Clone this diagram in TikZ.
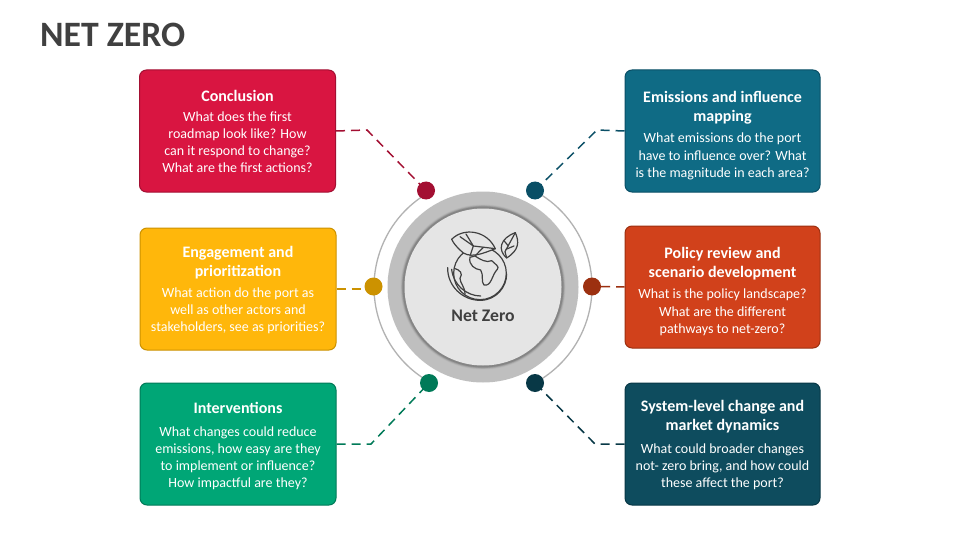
\documentclass[tikz,border=0pt]{standalone}
\usepackage{fontspec}
\setmainfont{Carlito}
\definecolor{cRed}{HTML}{D91541}\definecolor{cRedD}{HTML}{A30F32}
\definecolor{cBlue}{HTML}{0F6B85}\definecolor{cBlueD}{HTML}{0A4F66}
\definecolor{cYel}{HTML}{FFB70B}\definecolor{cYelD}{HTML}{CC9200}
\definecolor{cOra}{HTML}{D1411B}\definecolor{cOraD}{HTML}{9C3010}
\definecolor{cGrn}{HTML}{00A676}\definecolor{cGrnD}{HTML}{007A58}
\definecolor{cNav}{HTML}{0E4C5E}\definecolor{cNavD}{HTML}{083846}
\definecolor{cInk}{HTML}{404040}
\tikzset{
 x=1pt,y=-1pt,
 card/.style={draw=#1,line width=1pt,rounded corners=7pt,minimum width=196pt,minimum height=122pt,inner sep=0pt},
 cardtext/.style={inner sep=0pt,text=white,align=center,font=\fontsize{14}{17.2}\selectfont},
 dot/.style={circle,fill=#1,draw=none,minimum size=18pt,inner sep=0pt},
 link/.style={draw=#1,line width=1.5pt,dash pattern=on 9pt off 6pt},
 icon/.style={draw=cInk,line width=1.2pt,line cap=round,line join=round,fill=none},
}
\newcommand{\tline}[1]{{\fontsize{16}{19}\selectfont\bfseries #1}}
\begin{document}
\begin{tikzpicture}
\useasboundingbox (0,0) rectangle (960,540);
\fill[white] (0,0) rectangle (960,540);
\node[anchor=west,text=cInk,inner sep=0pt,font=\fontsize{35.7}{38}\selectfont\bfseries] (title) at (40,35) {NET ZERO};

% ring
\draw[black!30,line width=1.3pt] ([shift={(121:109pt)}]483,287) arc[start angle=121,end angle=239,radius=109pt];
\draw[black!30,line width=1.3pt] ([shift={(61:109pt)}]483,287) arc[start angle=61,end angle=-61,radius=109pt];

% hub
\fill[black!25] (483,287) circle[radius=95.5];
\foreach \r/\g in {82.5/28,81.8/33,81.1/40,80.4/48}{\fill[black!\g] (483,287) circle[radius=\r];}
\node[circle,fill=black!10,minimum size=157pt,inner sep=0pt] (hub) at (483,287) {};
\node[text=cInk,font=\fontsize{17.7}{20}\selectfont\bfseries,inner sep=0pt] (hublabel) at (483,316) {Net Zero};

% globe icon (zoomed coordinates of the crop)
\begin{scope}[shift={(360,170)},x=.3333pt,y=-.3333pt]
 \draw[icon] (360,310) circle[radius=79];
 \draw[icon] (263,293) .. controls (262,350) and (310,392) .. (362,391) .. controls (410,390) and (440,350) .. (440,312);
 \draw[icon] (275,298) .. controls (280,345) and (320,378) .. (362,378);
 % continents
 \draw[icon] (330,262) .. controls (325,285) and (345,298) .. (362,300) .. controls (372,315) and (362,335) .. (372,345) .. controls (395,350) and (395,315) .. (412,298) .. controls (420,290) and (405,282) .. (395,272) .. controls (380,280) and (360,268) .. (345,258) -- cycle;
 \draw[icon] (283,295) .. controls (300,300) and (310,310) .. (300,325) .. controls (300,340) and (315,350) .. (315,372);
 % big leaf
 \draw[icon,fill=black!10] (275,208) .. controls (310,172) and (380,180) .. (406,236) .. controls (370,250) and (325,270) .. (300,240) .. controls (290,230) and (282,222) .. (275,208) -- cycle;
 \draw[icon] (300,200) -- (340,228) -- (406,236);
 \draw[icon] (340,228) -- (330,258);
 \draw[icon] (318,192) -- (340,228);
 \draw[icon] (370,232) -- (345,258);
 % small leaf
 \draw[icon,fill=black!10] (466,188) .. controls (478,215) and (478,240) .. (440,264) .. controls (412,240) and (420,205) .. (466,188) -- cycle;
 \draw[icon] (466,188) -- (435,245) -- (440,264);
 \draw[icon] (445,228) -- (432,212);
 \draw[icon] (438,238) -- (462,228);
\end{scope}

% cards
\node[card=cRedD,fill=cRed] (c1) at (237.5,131) {};
\node[cardtext] (t1) at (237.5,131.5) {\tline{Conclusion}\\[3pt]What does the first\\roadmap look like? How\\can it respond to change?\\What are the first actions?};
\node[card=cBlueD,fill=cBlue,minimum width=195pt] (c2) at (722.5,131) {};
\node[cardtext] (t2) at (722.5,135.5) {\tline{Emissions and influence}\\[2pt]\tline{mapping}\\[4pt]What emissions do the port\\have to influence over? What\\is the magnitude in each area?};
\node[card=cYelD,fill=cYel] (c3) at (238,289) {};
\node[cardtext] (t3) at (238,290) {\tline{Engagement and}\\[2pt]\tline{prioritization}\\[4pt]What action do the port as\\well as other actors and\\stakeholders, see as priorities?};
\node[card=cOraD,fill=cOra,minimum width=195pt] (c4) at (722.5,287) {};
\node[cardtext] (t4) at (722.5,291.5) {\tline{Policy review and}\\[2pt]\tline{scenario development}\\[4pt]What is the policy landscape?\\What are the different\\pathways to net-zero?};
\node[card=cGrnD,fill=cGrn] (c5) at (238,444) {};
\node[cardtext] (t5) at (238,446) {\tline{Interventions}\\[6pt]What changes could reduce\\emissions, how easy are they\\to implement or influence?\\How impactful are they?};
\node[card=cNavD,fill=cNav,minimum width=195pt] (c6) at (722.5,444) {};
\node[cardtext] (t6) at (722.5,445) {\tline{System-level change and}\\[2pt]\tline{market dynamics}\\[6pt]What could broader changes\\not- zero bring, and how could\\these affect the port?};

% dots
\node[dot=cRedD] (d1) at (426,190.5) {};
\node[dot=cBlueD] (d2) at (535,190.5) {};
\node[dot=cYelD] (d3) at (373.5,286.5) {};
\node[dot=cOraD] (d4) at (592,286.5) {};
\node[dot=cGrnD] (d5) at (429,383) {};
\node[dot=cNavD] (d6) at (535,383) {};

% connectors
\coordinate (b1) at (367,130);
\coordinate (b2) at (597,130);
\coordinate (b5) at (371,444);
\coordinate (b6) at (595,444);
\draw[link=cRedD] (c1.east) -- (b1) -- (d1.center);
\draw[link=cBlueD] (c2.west) -- (b2) -- (d2.center);
\draw[link=cYelD] (c3.east) -- (c3.east -| d3.west);
\draw[link=cOraD] (d4.east) -- (c4.west);
\draw[link=cGrnD] (c5.east) -- (b5) -- (d5.center);
\draw[link=cNavD] (c6.west) -- (b6) -- (d6.center);
\end{tikzpicture}
\end{document}
